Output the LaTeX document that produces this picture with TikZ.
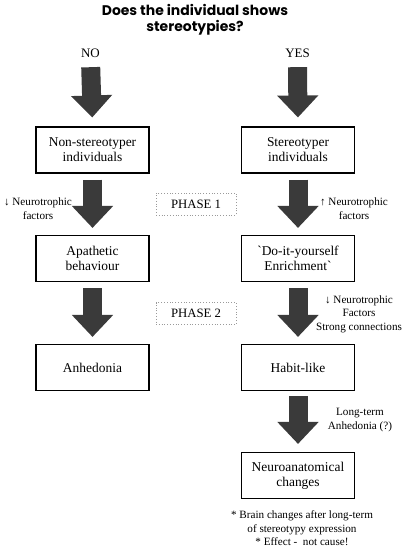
\documentclass[tikz,border=0pt]{standalone}
\usepackage{fontspec}
\setmainfont{Liberation Serif}[Ligatures=TeXOff]
\newfontfamily\titlefont{Poppins}
\usetikzlibrary{arrows.meta}
\definecolor{arrowgray}{HTML}{3A3A3A}
\definecolor{dotgray}{HTML}{9A9A9A}
\begin{document}
\begin{tikzpicture}[x=1bp,y=-1bp,
  box/.style={draw=black, line width=1.1bp, minimum width=113bp, minimum height=46bp, inner sep=0pt, align=center, font=\fontsize{13.5}{15}\selectfont},
  phasebox/.style={draw=dotgray, dotted, line width=0.8bp, minimum width=80bp, minimum height=22bp, inner sep=0pt, font=\fontsize{12.8}{15}\selectfont},
  lbl/.style={align=center, inner sep=0pt, font=\fontsize{11.2}{13.5}\selectfont},
  answer/.style={inner sep=0pt, minimum height=14bp, font=\fontsize{13}{15}\selectfont},
  bigarrow/.style={draw=arrowgray, line width=19bp, -{Triangle[width=40bp,length=22bp]}, shorten <=6bp, shorten >=7bp}]
\useasboundingbox (0,0) rectangle (408,550);
\node[align=center, inner sep=0pt, font=\titlefont\bfseries\fontsize{14}{16}\selectfont] (title) at (195,19.5) {Does the individual shows\\stereotypies?};
\node[answer] (no) at (90.5,53) {NO};
\node[answer] (yes) at (297.5,53) {YES};
\node[box] (l1) at (92.5,150) {Non-stereotyper\\individuals};
\node[box] (r1) at (298,150) {Stereotyper\\individuals};
\node[box] (l2) at (92.5,258.5) {Apathetic\\behaviour};
\node[box] (r2) at (298,258.5) {`Do-it-yourself\\Enrichment`};
\node[box] (l3) at (92.5,367.5) {Anhedonia};
\node[box] (r3) at (298,367.5) {Habit-like};
\node[box] (r4) at (298,475.5) {Neuroanatomical\\changes};
\node[phasebox] (p1) at (196,204) {PHASE 1};
\node[phasebox] (p2) at (196,313.5) {PHASE 2};
\node[lbl] (lab1) at (38,208.5) {↓ Neurotrophic\\factors};
\node[lbl] (lab2) at (354,208.5) {↑ Neurotrophic\\factors};
\node[lbl] (lab3) at (359,314) {↓ Neurotrophic\\Factors\\Strong connections};
\node[lbl] (lab4) at (360,420) {Long-term\\Anhedonia (?)};
\node[lbl] (note) at (302,528.5) {* Brain changes after long-term\\of stereotypy expression\\* Effect -\ \ not cause!};
\draw[bigarrow, shorten <=7bp, shorten >=9bp] (no.south) -- (l1.north);
\draw[bigarrow, shorten <=7bp, shorten >=9bp] (yes.south) -- (r1.north);
\draw[bigarrow] (l1) -- (l2);
\draw[bigarrow] (r1) -- (r2);
\draw[bigarrow] (l2) -- (l3);
\draw[bigarrow] (r2) -- (r3);
\draw[bigarrow, shorten <=5bp, shorten >=8bp] (r3) -- (r4);
\end{tikzpicture}
\end{document}
